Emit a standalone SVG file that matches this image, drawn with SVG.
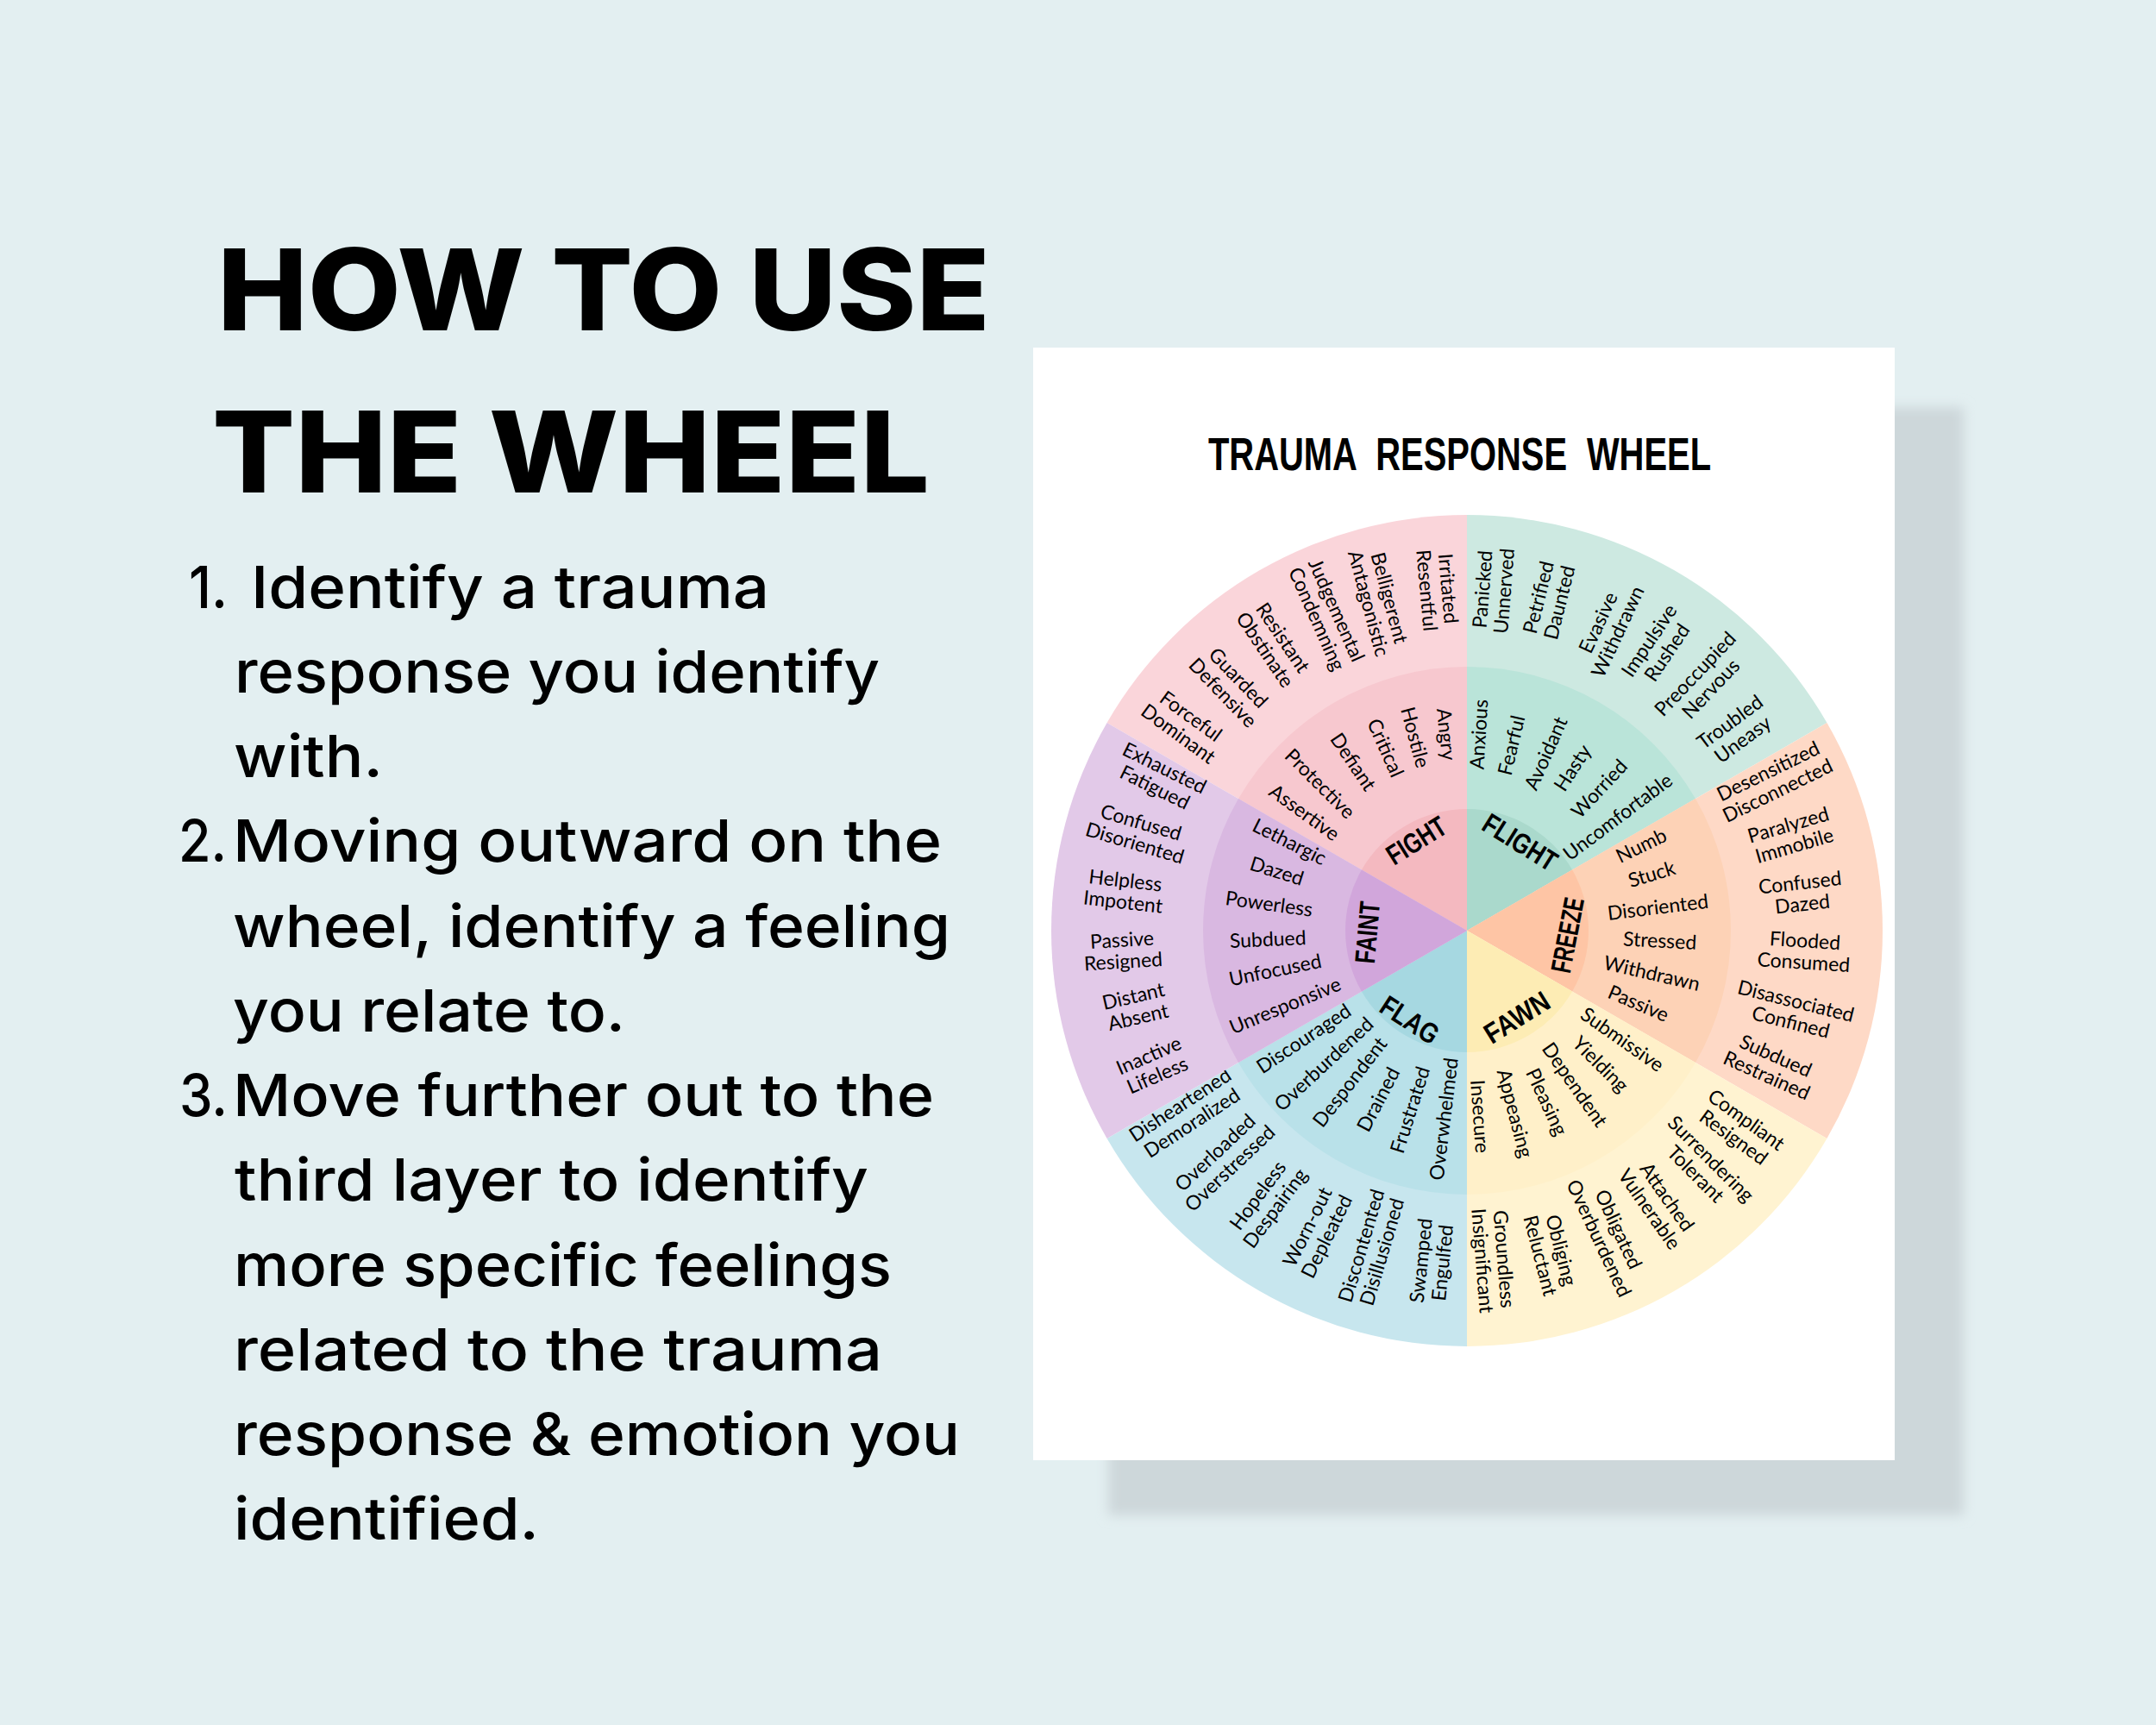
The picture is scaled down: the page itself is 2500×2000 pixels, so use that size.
<svg xmlns="http://www.w3.org/2000/svg" width="2500" height="2000" viewBox="0 0 2500 2000">
<style>
.h{font-family:"Inter","Liberation Sans",sans-serif;font-weight:800;font-size:131px;fill:#000}
.b{font-family:"Inter","Open Sans",sans-serif;font-weight:500;font-size:68px;fill:#000}
.ttl{font-family:"Liberation Sans",sans-serif;font-weight:700;font-size:54px;fill:#000;word-spacing:16px}
.w text{font-family:"Lato","Noto Sans",sans-serif;font-size:23px;fill:#000;text-anchor:middle}
.w text.k{font-family:"Liberation Sans",sans-serif;font-weight:700;font-size:33px}
</style>
<defs>
<filter id="blur" x="-5%" y="-5%" width="110%" height="110%"><feGaussianBlur stdDeviation="7"/></filter>
<path id="o" d="M0 0L0 -482A482 482 0 0 1 417.4 -241Z"/>
<path id="m" d="M0 0L0 -306A306 306 0 0 1 265 -153Z"/>
<path id="i" d="M0 0L0 -141A141 141 0 0 1 122.1 -70.5Z"/>
</defs>
<rect width="2500" height="2000" fill="#e3eff1"/>
<g id="how-to">
<text class="h" x="252" y="382.6" textLength="896" lengthAdjust="spacingAndGlyphs">HOW TO USE</text>
<text class="h" x="246" y="571" textLength="832" lengthAdjust="spacingAndGlyphs">THE WHEEL</text>
<g class="steps">
<text class="b" x="219" y="704.5" textLength="45" lengthAdjust="spacingAndGlyphs">1.</text>
<text class="b" x="291" y="704.5" textLength="601" lengthAdjust="spacingAndGlyphs">Identify a trauma</text>
<text class="b" x="272" y="803" textLength="748" lengthAdjust="spacingAndGlyphs">response you identify</text>
<text class="b" x="271" y="901" textLength="173" lengthAdjust="spacingAndGlyphs">with.</text>
<text class="b" x="207" y="999" textLength="56" lengthAdjust="spacingAndGlyphs">2.</text>
<text class="b" x="270" y="999" textLength="822" lengthAdjust="spacingAndGlyphs">Moving outward on the</text>
<text class="b" x="270" y="1097.5" textLength="832" lengthAdjust="spacingAndGlyphs">wheel, identify a feeling</text>
<text class="b" x="270" y="1195.5" textLength="455" lengthAdjust="spacingAndGlyphs">you relate to.</text>
<text class="b" x="208" y="1294" textLength="56" lengthAdjust="spacingAndGlyphs">3.</text>
<text class="b" x="270" y="1294" textLength="813" lengthAdjust="spacingAndGlyphs">Move further out to the</text>
<text class="b" x="272" y="1392" textLength="735" lengthAdjust="spacingAndGlyphs">third layer to identify</text>
<text class="b" x="271" y="1490.5" textLength="763" lengthAdjust="spacingAndGlyphs">more specific feelings</text>
<text class="b" x="271" y="1589" textLength="752" lengthAdjust="spacingAndGlyphs">related to the trauma</text>
<text class="b" x="271" y="1687" textLength="842" lengthAdjust="spacingAndGlyphs">response &amp; emotion you</text>
<text class="b" x="271" y="1785" textLength="354" lengthAdjust="spacingAndGlyphs">identified.</text>
</g>
</g>
<g id="poster">
<rect x="1285" y="472" width="992" height="1285" fill="#cdd7da" filter="url(#blur)"/>
<rect x="1198" y="403" width="999" height="1290" fill="#fff"/>
<text class="ttl" x="1401" y="545" textLength="583" lengthAdjust="spacingAndGlyphs">TRAUMA RESPONSE WHEEL</text>
</g>
<g class="w" transform="translate(1701 1079)">
<g id="fight">
<g transform="rotate(300)"><use href="#o" fill="#fad5da"/><use href="#m" fill="#f7c8cf"/><use href="#i" fill="#f4b9c0"/></g>
<g transform="rotate(85)"><text x="-397" y="-5">Irritated</text><text x="-397" y="20">Resentful</text></g>
<g transform="rotate(75)"><text x="-396" y="-5">Belligerent</text><text x="-396" y="20">Antagonistic</text></g>
<g transform="rotate(66)"><text x="-401" y="-5">Judgemental</text><text x="-401" y="20">Condemning</text></g>
<g transform="rotate(56)"><text x="-401" y="-5">Resistant</text><text x="-401" y="20">Obstinate</text></g>
<g transform="rotate(46)"><text x="-395" y="-5">Guarded</text><text x="-395" y="20">Defensive</text></g>
<g transform="rotate(36)"><text x="-405" y="-5">Forceful</text><text x="-405" y="20">Dominant</text></g>
<text transform="rotate(84)" x="-229" y="8">Angry</text>
<text transform="rotate(75)" x="-232" y="8">Hostile</text>
<text transform="rotate(66)" x="-232" y="8">Critical</text>
<text transform="rotate(56)" x="-236" y="8">Defiant</text>
<text transform="rotate(45)" x="-241" y="8">Protective</text>
<text transform="rotate(36)" x="-233" y="8">Assertive</text>
<text class="k" transform="translate(-59 -105) rotate(-32)" y="12" textLength="75" lengthAdjust="spacingAndGlyphs">FIGHT</text>
</g>
<g id="flight">
<g transform="rotate(0)"><use href="#o" fill="#cde9e1"/><use href="#m" fill="#bae4d9"/><use href="#i" fill="#aad9cc"/></g>
<g transform="rotate(-85.5)"><text x="396" y="-5">Panicked</text><text x="396" y="20">Unnerved</text></g>
<g transform="rotate(-76)"><text x="395" y="-5">Petrified</text><text x="395" y="20">Daunted</text></g>
<g transform="rotate(-65)"><text x="388" y="-5">Evasive</text><text x="388" y="20">Withdrawn</text></g>
<g transform="rotate(-56)"><text x="397" y="-5">Impulsive</text><text x="397" y="20">Rushed</text></g>
<g transform="rotate(-46.5)"><text x="398" y="-5">Preoccupied</text><text x="398" y="20">Nervous</text></g>
<g transform="rotate(-36.5)"><text x="389" y="-5">Troubled</text><text x="389" y="20">Uneasy</text></g>
<text transform="rotate(-86.5)" x="228" y="8">Anxious</text>
<text transform="rotate(-76.5)" x="221" y="8">Fearful</text>
<text transform="rotate(-66)" x="225" y="8">Avoidant</text>
<text transform="rotate(-57)" x="225" y="8">Hasty</text>
<text transform="rotate(-47)" x="225" y="8">Worried</text>
<text transform="rotate(-37)" x="219" y="8">Uncomfortable</text>
<text class="k" transform="translate(62 -103) rotate(32)" y="12" textLength="95" lengthAdjust="spacingAndGlyphs">FLIGHT</text>
</g>
<g id="freeze">
<g transform="rotate(60)"><use href="#o" fill="#fed9c6"/><use href="#m" fill="#fdd2b6"/><use href="#i" fill="#fec5a5"/></g>
<g transform="rotate(-26)"><text x="395" y="-5">Desensitized</text><text x="395" y="20">Disconnected</text></g>
<g transform="rotate(-16.3)"><text x="392" y="-5">Paralyzed</text><text x="392" y="20">Immobile</text></g>
<g transform="rotate(-6.3)"><text x="390" y="-5">Confused</text><text x="390" y="20">Dazed</text></g>
<g transform="rotate(3.6)"><text x="392" y="-5">Flooded</text><text x="392" y="20">Consumed</text></g>
<g transform="rotate(14)"><text x="390" y="-5">Disassociated</text><text x="390" y="20">Confined</text></g>
<g transform="rotate(24)"><text x="386" y="-5">Subdued</text><text x="386" y="20">Restrained</text></g>
<text transform="rotate(-26)" x="225" y="8">Numb</text>
<text transform="rotate(-17)" x="224" y="8">Stuck</text>
<text transform="rotate(-7)" x="223" y="8">Disoriented</text>
<text transform="rotate(3)" x="224" y="8">Stressed</text>
<text transform="rotate(13)" x="220" y="8">Withdrawn</text>
<text transform="rotate(23)" x="216" y="8">Passive</text>
<text class="k" transform="translate(116 5) rotate(-79)" y="12" textLength="88" lengthAdjust="spacingAndGlyphs">FREEZE</text>
</g>
<g id="fawn">
<g transform="rotate(120)"><use href="#o" fill="#fff3d1"/><use href="#m" fill="#fff0c9"/><use href="#i" fill="#fdecb4"/></g>
<g transform="rotate(36)"><text x="391" y="-5">Compliant</text><text x="391" y="20">Resigned</text></g>
<g transform="rotate(45)"><text x="387" y="-5">Surrendering</text><text x="387" y="20">Tolerant</text></g>
<g transform="rotate(55)"><text x="386" y="-5">Attached</text><text x="386" y="20">Vulnerable</text></g>
<g transform="rotate(65)"><text x="388" y="-5">Obligated</text><text x="388" y="20">Overburdened</text></g>
<g transform="rotate(75.5)"><text x="386" y="-5">Obliging</text><text x="386" y="20">Reluctant</text></g>
<g transform="rotate(85.5)"><text x="383" y="-5">Groundless</text><text x="383" y="20">Insignificant</text></g>
<text transform="rotate(35)" x="220" y="8">Submissive</text>
<text transform="rotate(45)" x="219" y="8">Yielding</text>
<text transform="rotate(55)" x="218" y="8">Dependent</text>
<text transform="rotate(65)" x="219" y="8">Pleasing</text>
<text transform="rotate(75.3)" x="219" y="8">Appeasing</text>
<text transform="rotate(86)" x="216" y="8">Insecure</text>
<text class="k" transform="translate(57.6 100) rotate(-32)" y="12" textLength="83" lengthAdjust="spacingAndGlyphs">FAWN</text>
</g>
<g id="flag">
<g transform="rotate(180)"><use href="#o" fill="#c7e6ee"/><use href="#m" fill="#b9e1e9"/><use href="#i" fill="#a6d8e1"/></g>
<g transform="rotate(-84)"><text x="-386" y="-5">Swamped</text><text x="-386" y="20">Engulfed</text></g>
<g transform="rotate(-73.4)"><text x="-385" y="-5">Discontented</text><text x="-385" y="20">Disillusioned</text></g>
<g transform="rotate(-63.6)"><text x="-390" y="-5">Worn-out</text><text x="-390" y="20">Depleated</text></g>
<g transform="rotate(-53.6)"><text x="-391" y="-5">Hopeless</text><text x="-391" y="20">Despairing</text></g>
<g transform="rotate(-43.3)"><text x="-389" y="-5">Overloaded</text><text x="-389" y="20">Overstressed</text></g>
<g transform="rotate(-33.2)"><text x="-389" y="-5">Disheartened</text><text x="-389" y="20">Demoralized</text></g>
<text transform="rotate(-83)" x="-220" y="8">Overwhelmed</text>
<text transform="rotate(-72.4)" x="-218" y="8">Frustrated</text>
<text transform="rotate(-62.3)" x="-221" y="8">Drained</text>
<text transform="rotate(-52.3)" x="-222" y="8">Despondent</text>
<text transform="rotate(-43)" x="-227" y="8">Overburdened</text>
<text transform="rotate(-33.5)" x="-227" y="8">Discouraged</text>
<text class="k" transform="translate(-66 103) rotate(33)" y="12" textLength="74" lengthAdjust="spacingAndGlyphs">FLAG</text>
</g>
<g id="faint">
<g transform="rotate(240)"><use href="#o" fill="#e2c9e8"/><use href="#m" fill="#d9b8e1"/><use href="#i" fill="#d1a6db"/></g>
<g transform="rotate(-23.3)"><text x="-396" y="-5">Inactive</text><text x="-396" y="20">Lifeless</text></g>
<g transform="rotate(-13)"><text x="-394" y="-5">Distant</text><text x="-394" y="20">Absent</text></g>
<g transform="rotate(-3.4)"><text x="-400" y="-5">Passive</text><text x="-400" y="20">Resigned</text></g>
<g transform="rotate(6.5)"><text x="-400" y="-5">Helpless</text><text x="-400" y="20">Impotent</text></g>
<g transform="rotate(16.5)"><text x="-398" y="-5">Confused</text><text x="-398" y="20">Disoriented</text></g>
<g transform="rotate(26.4)"><text x="-398" y="-5">Exhausted</text><text x="-398" y="20">Fatigued</text></g>
<text transform="rotate(-22.4)" x="-228" y="8">Unresponsive</text>
<text transform="rotate(-11.6)" x="-227" y="8">Unfocused</text>
<text transform="rotate(-2.5)" x="-231" y="8">Subdued</text>
<text transform="rotate(7.7)" x="-231.6" y="8">Powerless</text>
<text transform="rotate(17.4)" x="-231" y="8">Dazed</text>
<text transform="rotate(26.6)" x="-230" y="8">Lethargic</text>
<text class="k" transform="translate(-116 2) rotate(-85)" y="12" textLength="72" lengthAdjust="spacingAndGlyphs">FAINT</text>
</g>
</g>
</svg>
